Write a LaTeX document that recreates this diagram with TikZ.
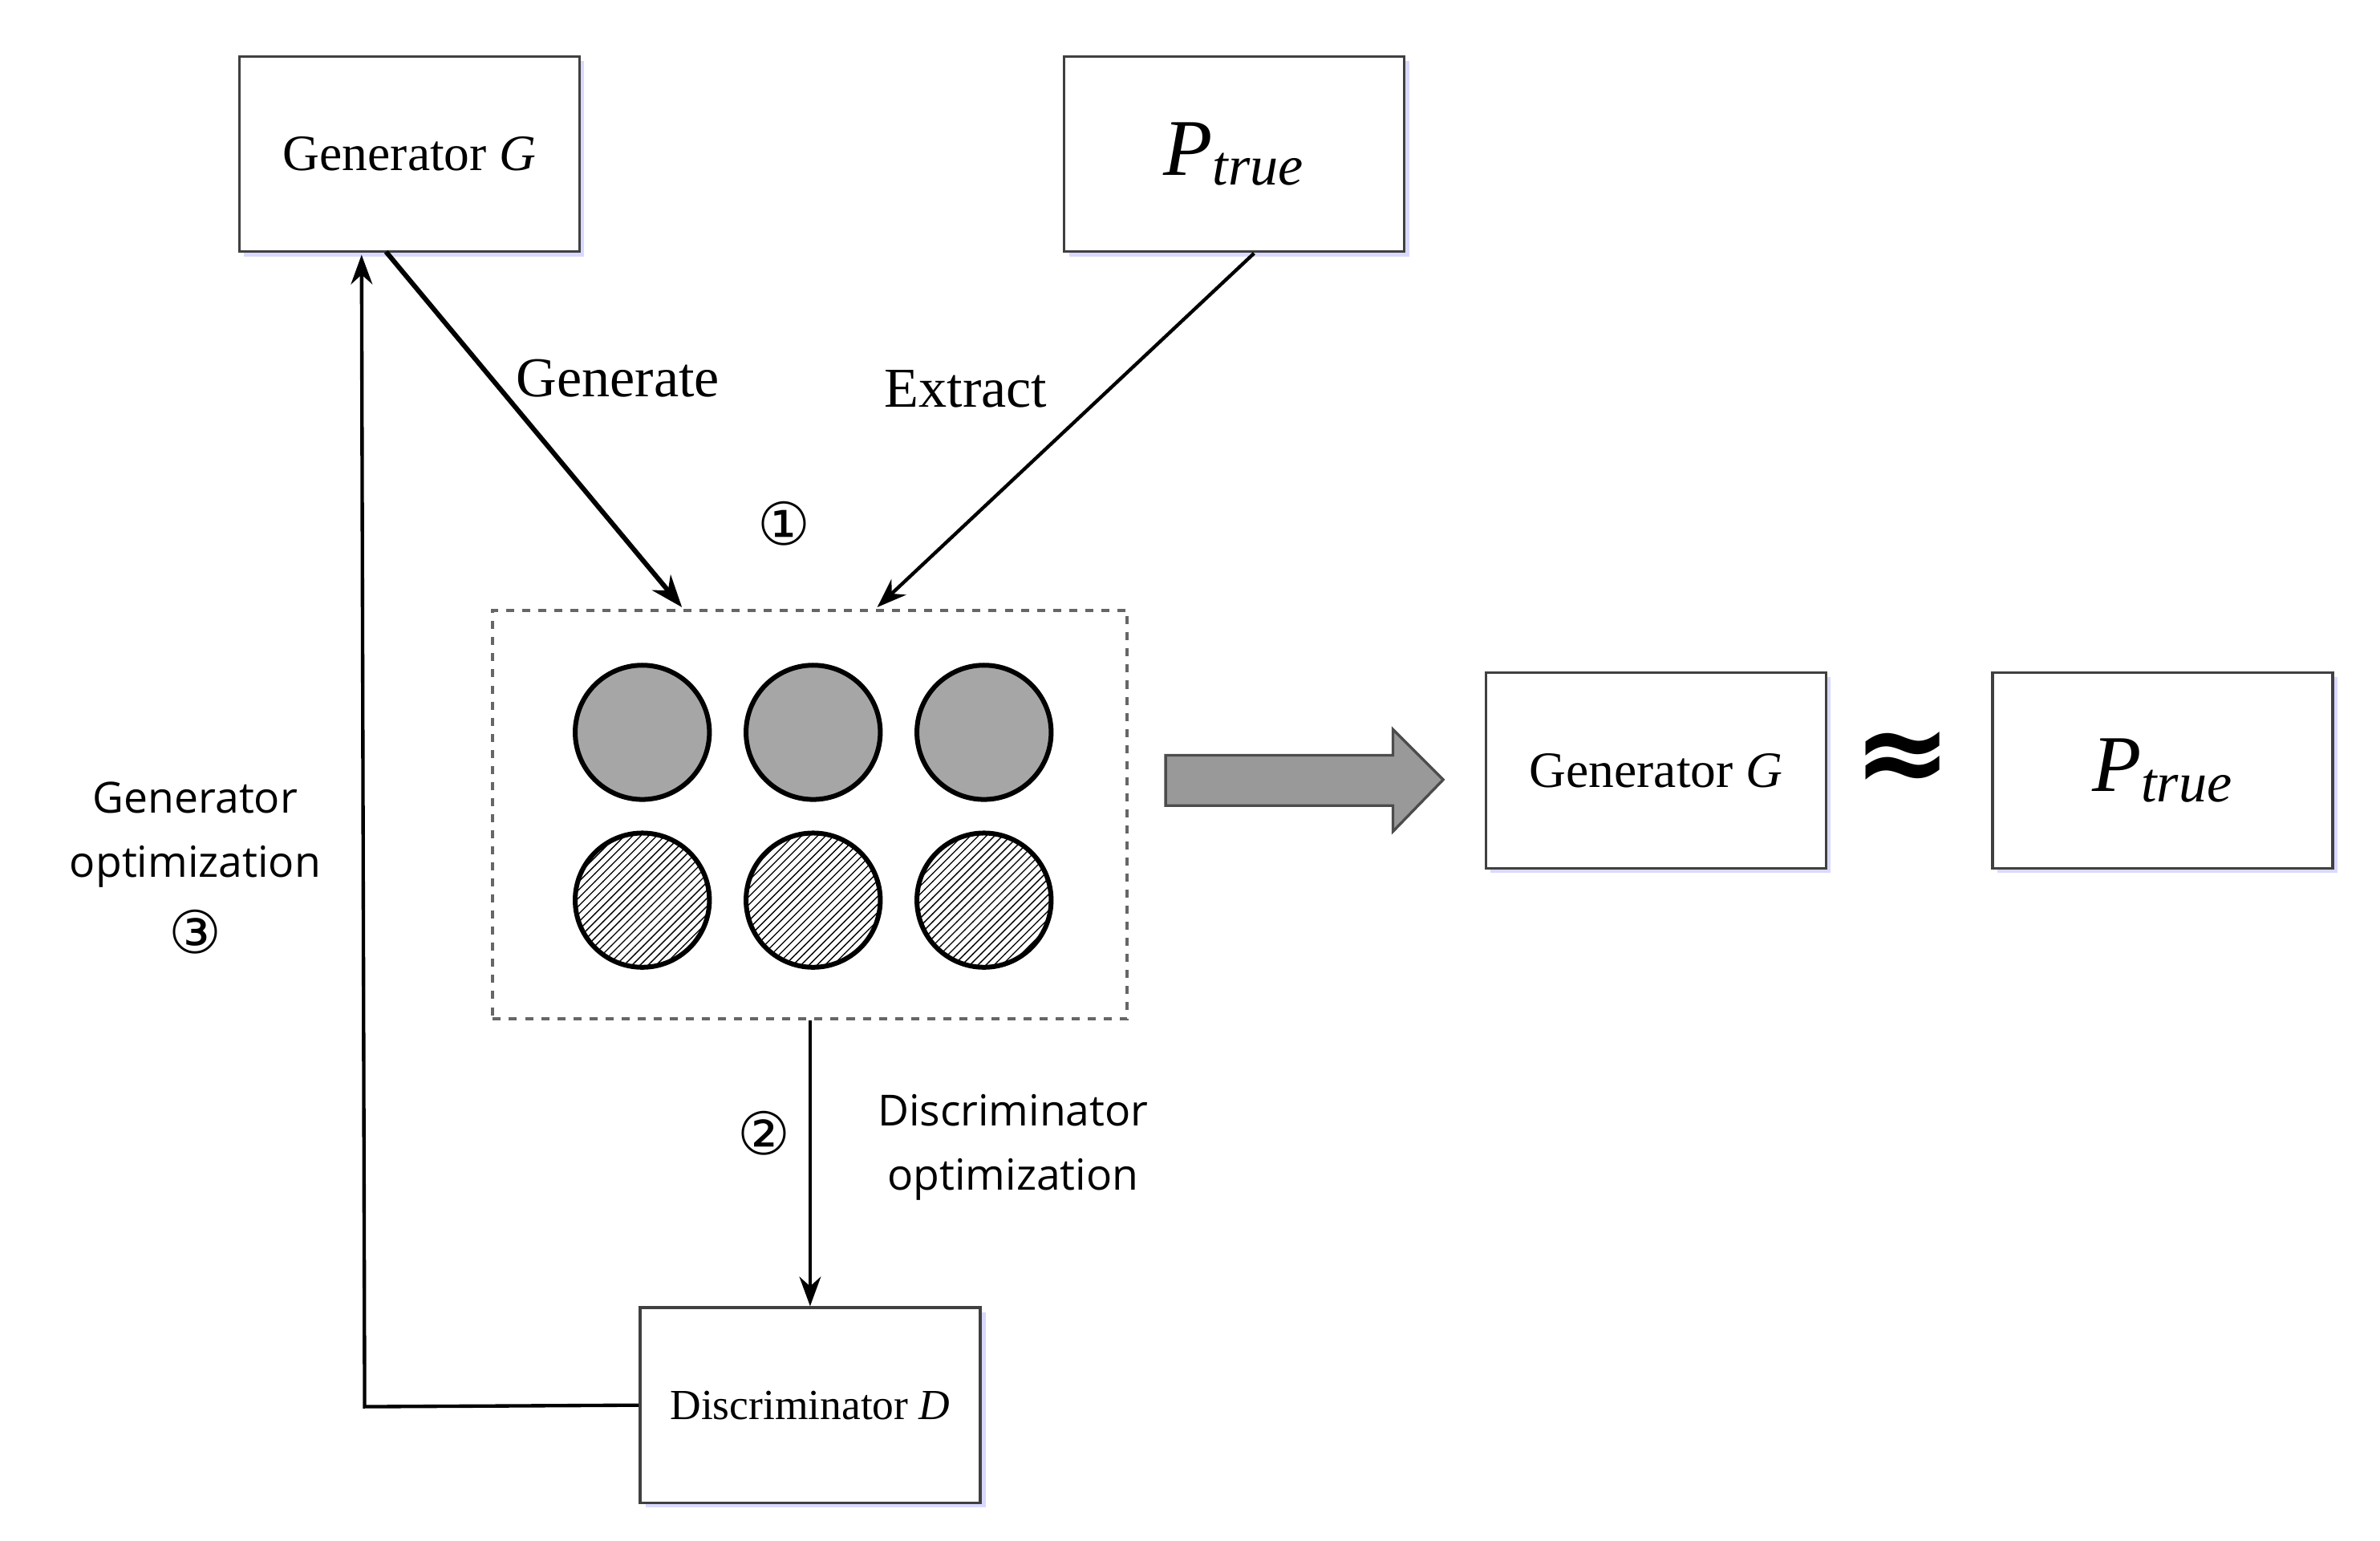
\documentclass[tikz,border=0pt]{standalone}
\usepackage{fontspec}
\setmainfont{Liberation Serif}
\newfontfamily\lblfont{Open Sans}
\newfontfamily\symfont{DejaVu Sans}
\usetikzlibrary{patterns,arrows.meta}
\begin{document}
\begin{tikzpicture}[x=0.02cm,y=-0.02cm,
  box/.style={draw=black!75,line width=1pt,fill=white,minimum width=4.46cm,minimum height=2.56cm,inner sep=0pt},
  shade/.style={fill=blue!15,draw=none},
  ball/.style={circle,draw=black,line width=1.8pt,minimum size=1.76cm,inner sep=0pt},
  conn/.style={line width=1.8pt,-{Stealth[length=12pt,width=9pt]}},
  slim/.style={line width=1.3pt,-{Stealth[length=11pt,width=8pt]}},
  lbl/.style={font=\lblfont\fontsize{16}{24}\selectfont,align=center},
  num/.style={font=\symfont\fontsize{22}{24}\selectfont}]
\useasboundingbox (0,0) rectangle (1560,1010);
% faint box shadows
\foreach \x/\y in {157/37,698/37,974/441,1306/441,420/857}
  \fill[shade] (\x+3,\y+3) rectangle (\x+226,\y+131);
\node[box,font=\fontsize{19}{22}\selectfont] (g1) at (268.5,101) {Generator \textit{G}};
\node[box,font=\fontsize{30}{32}\selectfont] (p1) at (809,101) {\textit{P}\textsubscript{\textit{true}}};
\node[draw=black!60,dashed,line width=1.2pt,minimum width=8.32cm,minimum height=5.36cm,inner sep=0pt] (set) at (531,534) {};
\foreach \i/\x in {1/421,2/533,3/645}{
  \node[ball,fill=black!35] (a\i) at (\x,480) {};
  \node[ball,pattern=north east lines] (b\i) at (\x,590) {};
}
\node[box,font=\fontsize{19}{22}\selectfont] (g2) at (1085.5,505) {Generator \textit{G}};
\node[box,font=\fontsize{30}{32}\selectfont] (p2) at (1417.5,505) {\textit{P}\textsubscript{\textit{true}}};
\node[font=\symfont\bfseries\fontsize{44}{44}\selectfont] (approx) at (1247,500) {≈};
\node[box,font=\fontsize{16}{20}\selectfont] (d) at (531,921) {Discriminator \textit{D}};
% big output arrow
\draw[black!70,fill=black!40,line width=1pt] (764,495) -- (913,495) -- (913,478) -- (946,511)
  -- (913,545) -- (913,528) -- (764,528) -- cycle;
\coordinate (gin) at (447,398);
\coordinate (ein) at (575,398);
\coordinate (back) at (239,922);
\draw[conn] (253,165) -- (gin);
\draw[slim] (822,166) -- (ein);
\node[font=\fontsize{21}{24}\selectfont] (tgen) at (405,248) {Generate};
\node[font=\fontsize{21}{24}\selectfont] (text) at (633,255) {Extract};
\node[num] (n1) at (514,343) {①};
\draw[slim] (set.south) -- (d.north);
\node[num] (n2) at (501,743) {②};
\node[lbl] (tdisc) at (664,752) {Discriminator\\optimization};
\draw[slim] (d.west) -- (back) -- (237,167);
\node[lbl] (tgo) at (128,547) {Generator\\optimization};
\node[num] (n3) at (128,611) {③};
\end{tikzpicture}
\end{document}
